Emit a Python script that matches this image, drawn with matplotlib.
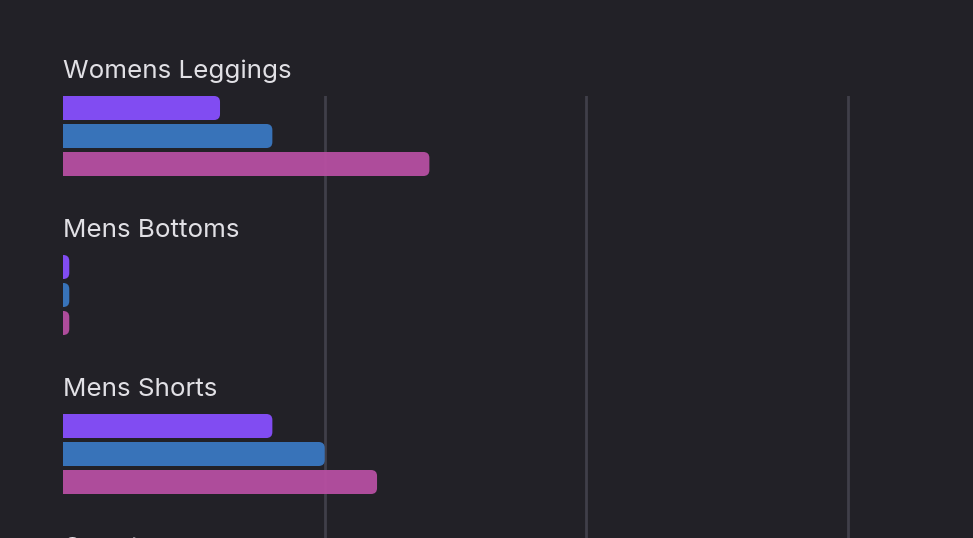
import matplotlib
matplotlib.use("Agg")
import matplotlib.pyplot as plt
from matplotlib.patches import FancyBboxPatch, Rectangle

categories = ["Womens Leggings", "Mens Bottoms", "Mens Shorts", "Sweaters"]
series_a = [3, 0.12, 4, 2]
series_b = [4, 0.12, 5, 3]
series_c = [7, 0.12, 6, 4]
grid_ticks = [5, 10, 15]

colors = ["#874ffe", "#3a78c2", "#b74fa2"]
bg = "#222127"
text_color = "#e1e0e5"

W, H = 973, 538
fig = plt.figure(figsize=(W / 100, H / 100), dpi=100, facecolor=bg)
# axes starts at the bar origin (x=63px) and the top of the first bar (y=96px)
ax = fig.add_axes([63 / W, 0, (W - 63) / W, (H - 96) / H], facecolor=bg)
px_per_unit = 261.7 / 5
ax.set_xlim(0, (W - 63) / px_per_unit)
ax.set_ylim(H - 96, 0)  # y in pixels below the axes top

group_pitch = 159
bar_pitch = 28
bar_h = 24
radius_px = 6

for g, name in enumerate(categories):
    top = g * group_pitch
    ax.text(0, top - 18, name, color=text_color, fontsize=18.7, family="Inter",
            va="baseline", ha="left", clip_on=False)
    for s, vals in enumerate([series_a, series_b, series_c]):
        y = top + s * bar_pitch
        w = vals[g]
        r = radius_px / px_per_unit
        patch = FancyBboxPatch((-r, y), w + r, bar_h,
                               boxstyle=f"round,pad=0,rounding_size={r}",
                               mutation_aspect=px_per_unit,
                               facecolor=colors[s], edgecolor="none",
                               alpha=0.95, zorder=2)
        ax.add_patch(patch)
        clip = Rectangle((0, y - 1), 100, bar_h + 2, transform=ax.transData)
        patch.set_clip_path(clip)

ax.set_xticks(grid_ticks)
ax.grid(axis="x", color="#403f49", linewidth=2, zorder=1)
ax.set_axisbelow(True)
ax.tick_params(length=0, labelbottom=False, labelleft=False)
ax.set_yticks([])
for sp in ax.spines.values():
    sp.set_visible(False)

fig.savefig("out.png", dpi=100, facecolor=bg)
